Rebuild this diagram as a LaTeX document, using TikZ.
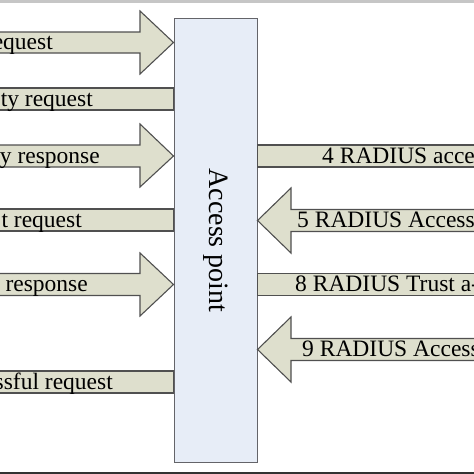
\documentclass[tikz,border=0pt]{standalone}
\usepackage{fontspec}
\setmainfont{Liberation Serif}
\definecolor{msgfill}{RGB}{222,223,205}
\definecolor{msgline}{RGB}{80,80,80}
\definecolor{apfill}{RGB}{231,237,247}
\definecolor{apline}{RGB}{100,100,105}
\tikzset{
  msg/.style={draw=msgline,fill=msgfill,line width=1.1pt,line join=miter},
  msgtext/.style={inner sep=0pt,font=\fontsize{23.5}{27}\selectfont},
}
\begin{document}
\begin{tikzpicture}[x=1pt,y=-1pt]

      \useasboundingbox (0,0) rectangle (474,474);
      \clip (0,0) rectangle (474,474);

      % frame bands
      \fill[gray!45] (0,0) rectangle (474,2.5);
      \fill[black!80] (0,471.5) rectangle (474,474);

      % access point
      \node[draw=apline,fill=apfill,line width=1pt,minimum width=83pt,
            minimum height=443.5pt,inner sep=0pt] (ap) at (215.5,240.25) {};
      \node[rotate=-90,inner sep=0pt,font=\fontsize{28}{32}\selectfont]
            (aplabel) at (216,240.5) {Access point};

      % messages from the left
      \draw[msg] (-5,32) -- (140,32) -- (140,11) -- (ap.west |- 0,42.5)
                 -- (140,74) -- (140,53) -- (-5,53) -- cycle;
      \draw[msg] (-5,88) rectangle (ap.west |- 0,110);
      \draw[msg] (-5,145) -- (140,145) -- (140,124) -- (ap.west |- 0,156)
                 -- (140,187) -- (140,167) -- (-5,167) -- cycle;
      \draw[msg] (-5,209) rectangle (ap.west |- 0,231);
      \draw[msg] (-5,273.5) -- (140,273.5) -- (140,253) -- (ap.west |- 0,284.5)
                 -- (140,316) -- (140,295.5) -- (-5,295.5) -- cycle;
      \draw[msg] (-5,371) rectangle (ap.west |- 0,393);

      % messages from the right
      \draw[msg] (ap.east |- 0,145) rectangle (480,167);
      \draw[msg] (480,209.5) -- (291,209.5) -- (291,188) -- (ap.east |- 0,220.5)
                 -- (291,253) -- (291,231.5) -- (480,231.5) -- cycle;
      \draw[msg] (ap.east |- 0,273.5) rectangle (480,295.5);
      \draw[msg] (480,338.5) -- (291,338.5) -- (291,317) -- (ap.east |- 0,349.5)
                 -- (291,382) -- (291,360.5) -- (480,360.5) -- cycle;

      \begin{scope}[every node/.style={msgtext,anchor=base east}]
        \node (m1) at (53,49)    {request};
        \node (m2) at (93,106)   {ty request};
        \node (m3) at (100,163)  {y response};
        \node (m6) at (82,227)   {t request};
        \node (m7) at (88,291.5) {response};
        \node (m10) at (113,389) {ssful request};
      \end{scope}

      \begin{scope}[every node/.style={msgtext,anchor=base west}]
        \node (m4) at (322,163)   {4 RADIUS acce};
        \node (m5) at (297,227.5) {5 RADIUS Access};
        \node (m8) at (295,291.5) {8 RADIUS Trust a-};
        \node (m9) at (302,356.5) {9 RADIUS Access};
      \end{scope}

    \end{tikzpicture}
\end{document}
